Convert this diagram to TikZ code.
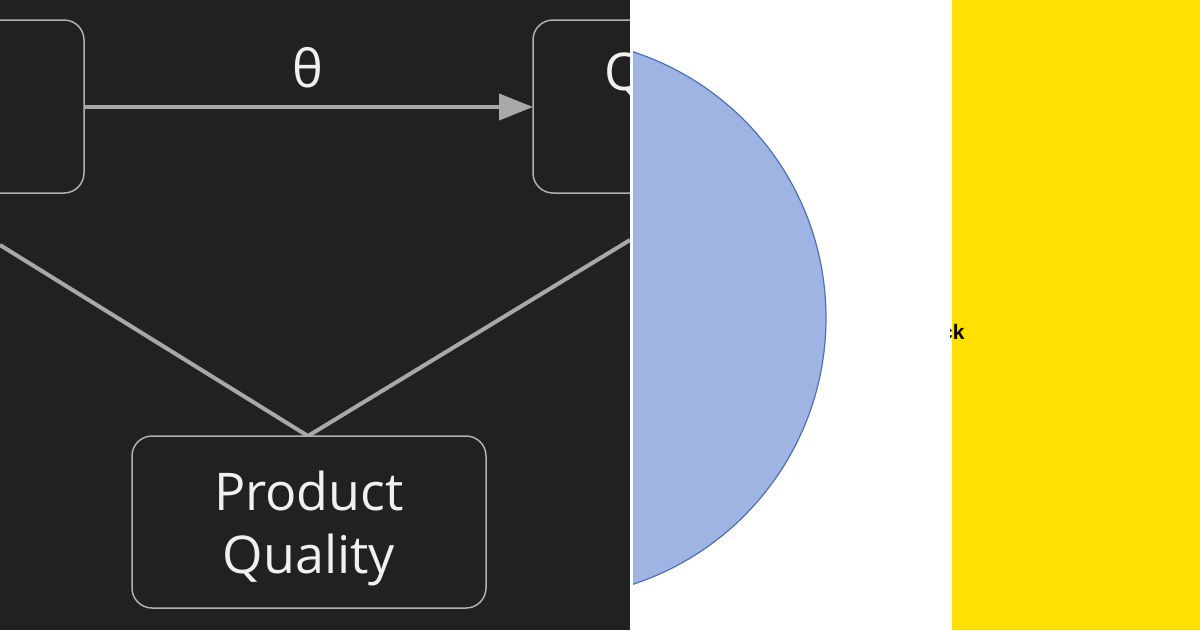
\documentclass[tikz,border=0pt]{standalone}
\usepackage{fontspec}
\setmainfont{Open Sans}
\newfontfamily\arialf{Liberation Sans}
\usetikzlibrary{arrows.meta}
\definecolor{darkbg}{HTML}{212121}
\definecolor{lgray}{HTML}{A8A8A8}
\definecolor{boxline}{HTML}{B0B0B0}
\definecolor{txt}{HTML}{F0F0F0}
\definecolor{cfill}{HTML}{A0B4E4}
\definecolor{cline}{HTML}{4472C4}
\definecolor{yel}{HTML}{FFE000}
\tikzset{
  qbox/.style={draw=boxline, line width=1.5pt, rounded corners=20pt, fill=darkbg},
  conn/.style={draw=lgray, line width=4pt},
  lbl/.style={text=txt, font=\fontsize{52}{58}\selectfont, align=center}
}
\begin{document}
\begin{tikzpicture}[x=1pt,y=-1pt]
\useasboundingbox (0,0) rectangle (1200,630);
\begin{scope}
\clip (0,0) rectangle (630,630);
\fill[darkbg] (0,0) rectangle (630,630);
\draw[qbox] (-60,20) rectangle (84,193);
\draw[qbox] (533,20) rectangle (700,193);
\coordinate (lb) at (84,107);
\coordinate (rb) at (533,107);
\draw[conn, -{Triangle[length=34pt,width=26pt]}] (lb) -- (rb);
\node[lbl] (th) at (308,68) {θ};
\node[lbl, anchor=west] (q) at (601,76) {Q};
\coordinate (pl) at (0,245);
\coordinate (pr) at (630,240);
\coordinate (pb) at (308,436);
\draw[conn] (pl) -- (pb) -- (pr);
\draw[qbox] (132,436) rectangle (486,608);
\node[lbl, font=\fontsize{52}{63}\selectfont] (pq) at (309,528) {Product\\Quality};
\end{scope}
\fill[white] (630,0) rectangle (952,630);
\begin{scope}
\clip (633,0) rectangle (952,630);
\draw[cline, fill=cfill, line width=1.2pt] (546,318) circle [radius=280];
\end{scope}
\fill[yel] (952,0) rectangle (1200,630);
\begin{scope}
\clip (950,0) rectangle (1200,630);
\node[anchor=west, font=\arialf\bfseries\fontsize{21}{24}\selectfont, inner sep=0] (ck) at (941,332) {ck};
\end{scope}
\end{tikzpicture}
\end{document}
